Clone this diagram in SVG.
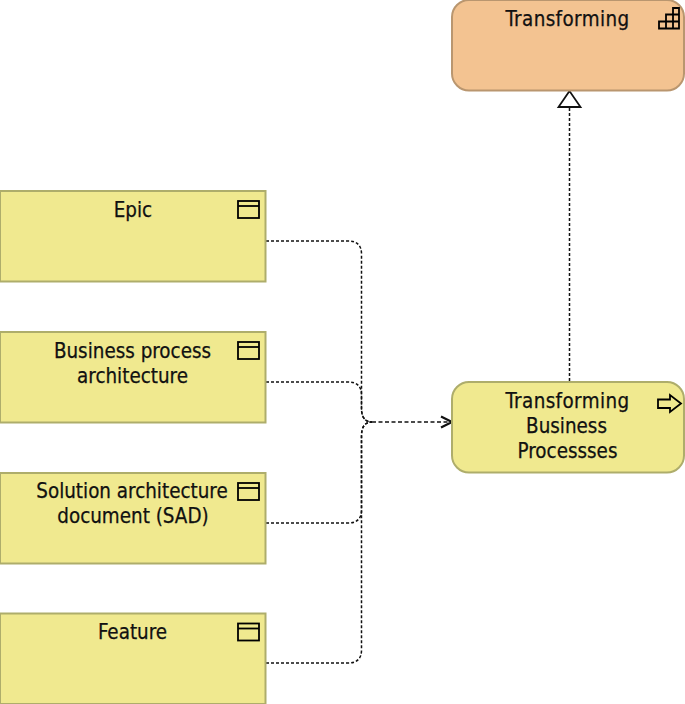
<svg xmlns="http://www.w3.org/2000/svg" width="685" height="704" viewBox="0 0 685 704">
<style>
.y{fill:#f0e98f;stroke:#aead6b;stroke-width:2}
.o{fill:#f3c391;stroke:#b9966f;stroke-width:2}
.t{font-family:"DejaVu Sans",sans-serif;font-size:20.400px;fill:#111;stroke:#111;stroke-width:.25;text-anchor:middle;font-stretch:condensed}
.s{letter-spacing:.4px}
.i{fill:none;stroke:#000;stroke-width:1.800}
.c{fill:none;stroke:#111;stroke-width:1.500;stroke-dasharray:3 2}
</style>
<defs>
<g id="win"><rect class="i" x="238" y="0" width="21" height="17"/><line class="i" x1="238" y1="5" x2="259" y2="5"/></g>
</defs>
<g id="connectors">
<path class="c" d="M266 241H348Q361.500 241 361.500 254V408Q361.500 422 372 422"/>
<path class="c" d="M266 382H348Q361.500 382 361.500 395V408Q361.500 422 372 422"/>
<path class="c" d="M266 523H348Q361.500 523 361.500 510V436Q361.500 422 372 422"/>
<path class="c" d="M266 663H348Q361.500 663 361.500 650V436Q361.500 422 372 422"/>
<path class="c" d="M372 422H451" style="stroke-dasharray:4 2.500"/>
<path fill="none" stroke="#111" stroke-width="2.200" d="M441 416.500L452 422L441 427.500"/>
<path class="c" d="M569.500 381V107"/>
<path fill="#fff" stroke="#111" stroke-width="1.800" d="M569.500 91L558.500 107H580.500Z"/>
</g>
<g id="n-transforming">
<rect class="o" x="452" y="0" width="232" height="90.500" rx="17"/>
<text class="t s" x="567.500" y="25.500">Transforming</text>
<path class="i" d="M659 28.500V21.500H666V14.500H673V8H679V28.500ZM666 21.500V28.500M673 14.500V28.500M666 21.500H679M673 14.500H679"/>
</g>
<g id="n-epic">
<rect class="y" x="0" y="191" width="265.500" height="90.500"/>
<text class="t" x="133" y="216.500">Epic</text>
<use href="#win" y="201"/>
</g>
<g id="n-bpa">
<rect class="y" x="0" y="332" width="265.500" height="90.500"/>
<text class="t" x="132.500" y="357.500">Business process</text>
<text class="t" x="132.500" y="382.500">architecture</text>
<use href="#win" y="342"/>
</g>
<g id="n-sad">
<rect class="y" x="0" y="473" width="265.500" height="90.500"/>
<text class="t" x="132" y="498">Solution architecture</text>
<text class="t" x="133" y="523">document (SAD)</text>
<use href="#win" y="483"/>
</g>
<g id="n-feature">
<rect class="y" x="0" y="613.500" width="265.500" height="90.500"/>
<text class="t" x="132.500" y="638.500">Feature</text>
<use href="#win" y="623.500"/>
</g>
<g id="n-tbp">
<rect class="y" x="452" y="382" width="232" height="90.500" rx="17"/>
<text class="t s" x="567.500" y="407.500">Transforming</text>
<text class="t" x="566.500" y="432.500">Business</text>
<text class="t" x="567.500" y="457.500">Processses</text>
<path class="i" d="M658 399.500H670V395L681 403.500L670 412V408H658Z"/>
</g>
</svg>
